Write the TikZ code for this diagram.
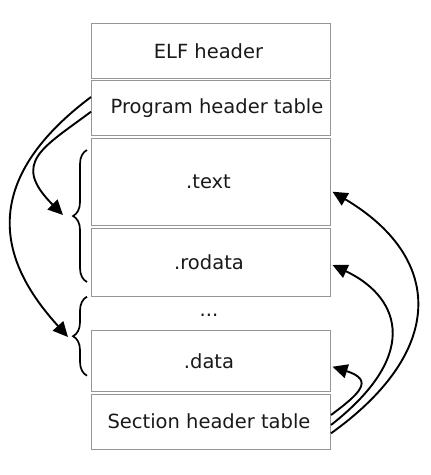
\documentclass[tikz,border=0pt]{standalone}
\usepackage{fontspec}
\setmainfont{DejaVu Sans}
\usetikzlibrary{arrows.meta,decorations.pathreplacing}
\definecolor{boxgray}{RGB}{150,150,150}
\definecolor{ink}{RGB}{25,25,25}
\begin{document}
\begin{tikzpicture}[x=1pt,y=-1pt,
  sect/.style={draw=boxgray, line width=1pt, minimum width=239pt, inner sep=0pt,
    text=ink, font=\fontsize{19.5}{23}\selectfont},
  ptr/.style={line width=1.9pt, -{Triangle[length=15pt,width=14pt]}},
  brc/.style={line width=1.7pt, decorate, decoration={brace, amplitude=14pt}}]
\useasboundingbox (0,0) rectangle (431,475);

\node[sect, minimum height=55pt]   (elf)    at (211,50.8)  {\hspace*{-5pt}ELF header};
\node[sect, minimum height=55.4pt] (pht)    at (211,108)   {\hspace*{12pt}Program header table};
\node[sect, minimum height=87.4pt] (text)   at (211,182)   {\hspace*{-5pt}.text};
\node[sect, minimum height=68.4pt] (rodata) at (211,262.5) {\hspace*{-4pt}.rodata};
\node[font=\fontsize{19.5}{23}\selectfont, text=ink, inner sep=0pt] (dots) at (209,315) {...};
\node[sect, minimum height=61pt]   (data)   at (211,361.2) {\hspace*{-4pt}.data};
\node[sect, minimum height=55pt]   (sht)    at (211,421.5) {\hspace*{-4pt}Section header table};

% braces
\draw[brc] (87,282) -- (87,150);
\draw[brc] (87,375.7) -- (87,296.7);
\coordinate (braceA) at (63,215);
\coordinate (braceB) at (68,337);

% program header table pointers
\draw[ptr] ([yshift=11pt]pht.west) .. controls +(-127.4,95.6) and +(-55.1,-60.9) .. (braceB);
\draw[ptr] ([yshift=-3.7pt]pht.west) .. controls +(-48,36) and +(-52.5,-52.5) .. (braceA);

% section header table pointers
\draw[ptr] ([yshift=6.5pt]sht.east) .. controls +(28,-21) and +(42.8,13.5) .. ([xshift=1.5pt,yshift=-5.5pt]data.east);
\draw[ptr] ([yshift=-3.5pt]sht.east) .. controls +(94.8,-74.4) and +(63,29.4) .. ([xshift=1.5pt,yshift=-2.5pt]rodata.east);
\draw[ptr] ([yshift=-11.8pt]sht.east) .. controls +(117.6,-84.2) and +(109.1,64.7) .. ([xshift=1.5pt,yshift=-9.7pt]text.east);
\end{tikzpicture}
\end{document}
